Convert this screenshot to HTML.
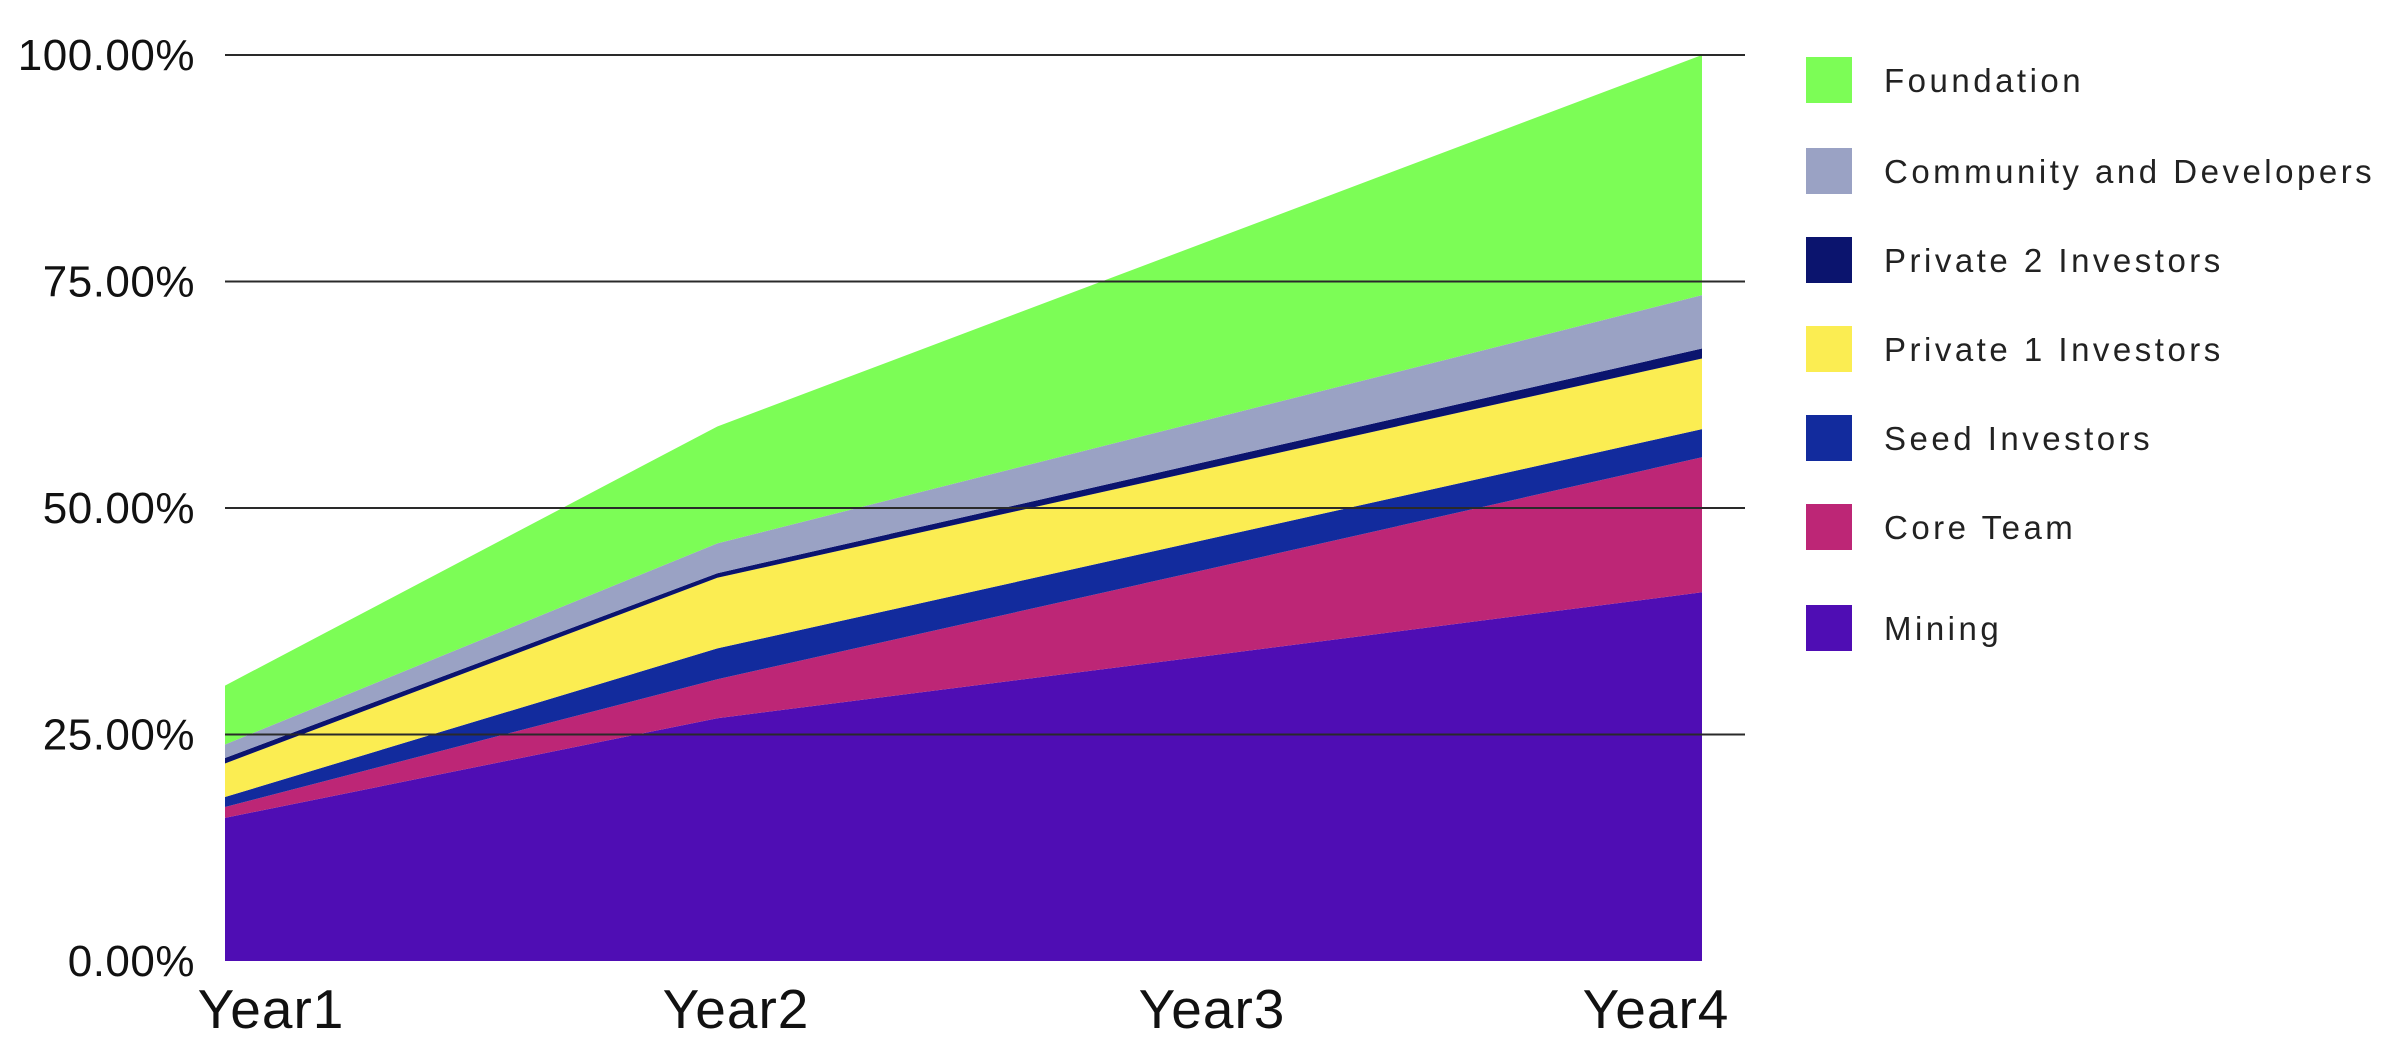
<!DOCTYPE html>
<html><head><meta charset="utf-8"><style>
html,body{margin:0;padding:0;background:#fff;width:2400px;height:1052px;overflow:hidden}
text{font-family:"Liberation Sans",sans-serif}
</style></head><body>
<svg id="chart" width="2400" height="1052" xmlns="http://www.w3.org/2000/svg">
<g id="areas"></g>
<g id="grid"></g>
<g id="yaxis"></g>
<g id="xaxis"></g>
<g id="legend"></g>
</svg>
<script>
const categories = ["Year1","Year2","Year3","Year4"];
const seriesNames = ["Mining","Core Team","Seed Investors","Private 1 Investors","Private 2 Investors","Community and Developers","Foundation"];
const mining = [15.8, 26.8, 33.7, 40.7];
const coreTeam = [1.2, 4.3, 9.6, 14.9];
const seed = [1.1, 3.4, 3.3, 3.1];
const private1 = [3.7, 7.8, 7.8, 7.8];
const private2 = [0.6, 0.5, 0.8, 1.1];
const community = [1.5, 3.3, 4.6, 5.9];
const foundation = [6.5, 12.9, 19.7, 26.5];
const yTicks = [0, 25, 50, 75, 100];
const yTickLabels = ["0.00%","25.00%","50.00%","75.00%","100.00%"];
const colors = ["#4f0db4","#bd2676","#122b9d","#fbed52","#0b146e","#9aa2c4","#7cfd56"];

const NS = "http://www.w3.org/2000/svg";
const X0 = 225, X1 = 1702, Y0 = 961, Y100 = 55;
function xScale(i){ return X0 + (X1 - X0) * i / (categories.length - 1); }
function yScale(v){ return Y0 - (Y0 - Y100) * v / 100; }
function mk(tag, attrs, parent){ const e = document.createElementNS(NS, tag); for (const k in attrs) e.setAttribute(k, attrs[k]); parent.appendChild(e); return e; }

const series = [mining, coreTeam, seed, private1, private2, community, foundation];
const areas = document.getElementById('areas');
let base = categories.map(() => 0);
series.forEach((s, si) => {
  const top = base.map((b, i) => b + s[i]);
  let d = "";
  top.forEach((v, i) => { d += (i ? "L" : "M") + xScale(i) + "," + yScale(v) + " "; });
  for (let i = base.length - 1; i >= 0; i--) d += "L" + xScale(i) + "," + yScale(base[i]) + " ";
  d += "Z";
  const p = mk('path', {d: d, fill: colors[si]}, areas);
  
  
  base = top;
});

const grid = document.getElementById('grid');
const yaxis = document.getElementById('yaxis');
yTicks.forEach((t, i) => {
  if (t > 0) {
    const l = mk('line', {x1: X0, x2: 1745, y1: yScale(t), y2: yScale(t), stroke: "#2a2a2a", "stroke-width": 2}, grid);
    
    
  }
  const tx = mk('text', {x: 195, y: yScale(t) + 15, "text-anchor": "end", "font-size": 44, "letter-spacing": 0.5, fill: "#111"}, yaxis);
  tx.textContent = yTickLabels[i];
  
  
});

const xaxis = document.getElementById('xaxis');
const xLabelCenters = [271, 736, 1212, 1656];
categories.forEach((c, i) => {
  const tx = mk('text', {x: xLabelCenters[i], y: 1028, "text-anchor": "middle", "font-size": 55, "letter-spacing": 1, fill: "#111"}, xaxis);
  tx.textContent = c;
  
  
});

const legend = document.getElementById('legend');
const legendOrder = [6,5,4,3,2,1,0];
const legendY = [80,171,260,349,438,527,628];
legendOrder.forEach((si, k) => {
  const g = mk('g', {}, legend);
  
  
  const r = mk('rect', {x: 1806, y: legendY[k] - 23, width: 46, height: 46, fill: colors[si]}, g);
  
  
  const t = mk('text', {x: 1884, y: legendY[k] + 12, "font-size": 33, "letter-spacing": 3.5, fill: "#222"}, g);
  t.textContent = seriesNames[si];
  
  
});
</script>
</body></html>
